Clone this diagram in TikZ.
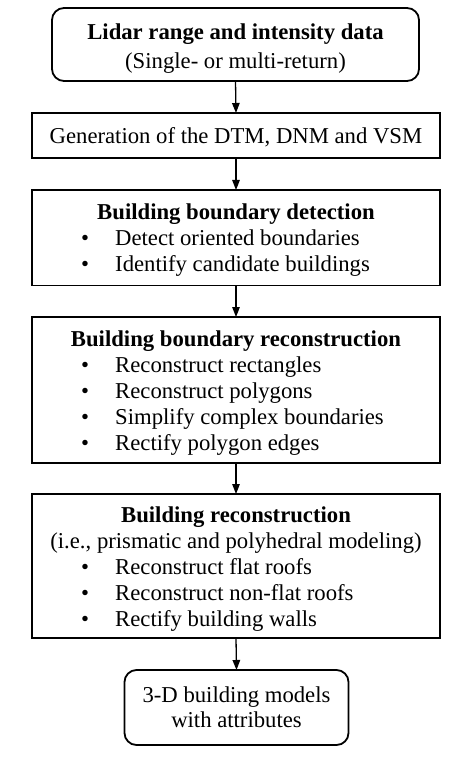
\documentclass[tikz,border=0pt]{standalone}
\usepackage{fontspec}
\setmainfont{Liberation Serif}
\usetikzlibrary{arrows.meta}
\begin{document}
\begin{tikzpicture}[x=1pt,y=-1pt,
  box/.style={draw=black, line width=1.8pt, inner sep=0pt, outer sep=0pt, fill=white},
  rbox/.style={box, rounded corners=12pt},
  txt/.style={anchor=base, inner sep=0pt, font=\fontsize{22.7}{26}\selectfont},
  hd/.style={txt, font=\fontsize{22.7}{26}\selectfont\bfseries},
  bul/.style={txt},
  item/.style={txt, anchor=base west},
  arr/.style={line width=1.3pt, -{Triangle[length=10pt,width=7.5pt]}}]
\useasboundingbox (0,0) rectangle (474,759);
\fill[white] (0,0) rectangle (474,759);
% boxes
\node[rbox, minimum width=367pt, minimum height=73pt] (b1) at (235.5,44.5) {};
\node[box, minimum width=408pt, minimum height=45pt] (b2) at (236,135.5) {};
\node[box, minimum width=408pt, minimum height=95.5pt] (b3) at (236,237.75) {};
\node[box, minimum width=408pt, minimum height=146pt] (b4) at (236,390) {};
\node[box, minimum width=408pt, minimum height=144pt] (b5) at (236,566) {};
\node[rbox, minimum width=224pt, minimum height=75pt] (b6) at (236.5,707.5) {};
% arrows
\draw[arr] (b1.south) -- (b2.north);
\draw[arr] (b2.south) -- (b3.north);
\draw[arr] (b3.south) -- (b4.north);
\draw[arr] (b4.south) -- (b5.north);
\draw[arr] (b5.south) -- (b6.north);
% box 1
\node[hd] (t1a) at (235.5,40) {Lidar range and intensity data};
\node[txt] (t1b) at (235.5,69) {(Single- or multi-return)};
% box 2
\node[txt] (t2) at (236,144) {Generation of the DTM, DNM and VSM};
% box 3
\node[hd] (t3a) at (236,219.5) {Building boundary detection};
\node[bul] (t3b) at (85,245.5) {•};
\node[item] (t3c) at (115,245.5) {Detect oriented boundaries};
\node[bul] (t3d) at (85,271.5) {•};
\node[item] (t3e) at (115,271.5) {Identify candidate buildings};
% box 4
\node[hd] (t4a) at (236,346.5) {Building boundary reconstruction};
\node[bul] (t4b) at (85,372) {•};
\node[item] (t4c) at (115,372) {Reconstruct rectangles};
\node[bul] (t4d) at (85,398) {•};
\node[item] (t4e) at (115,398) {Reconstruct polygons};
\node[bul] (t4f) at (85,424) {•};
\node[item] (t4g) at (115,424) {Simplify complex boundaries};
\node[bul] (t4h) at (85,450) {•};
\node[item] (t4i) at (115,450) {Rectify polygon edges};
% box 5
\node[hd] (t5a) at (236,522) {Building reconstruction};
\node[txt] (t5b) at (236,548.5) {(i.e., prismatic and polyhedral modeling)};
\node[bul] (t5c) at (85,574) {•};
\node[item] (t5d) at (115,574) {Reconstruct flat roofs};
\node[bul] (t5e) at (85,600) {•};
\node[item] (t5f) at (115,600) {Reconstruct non-flat roofs};
\node[bul] (t5g) at (85,626.5) {•};
\node[item] (t5h) at (115,626.5) {Rectify building walls};
% box 6
\node[txt] (t6a) at (236.5,702) {3-D building models};
\node[txt] (t6b) at (236.5,727) {with attributes};
\end{tikzpicture}
\end{document}
